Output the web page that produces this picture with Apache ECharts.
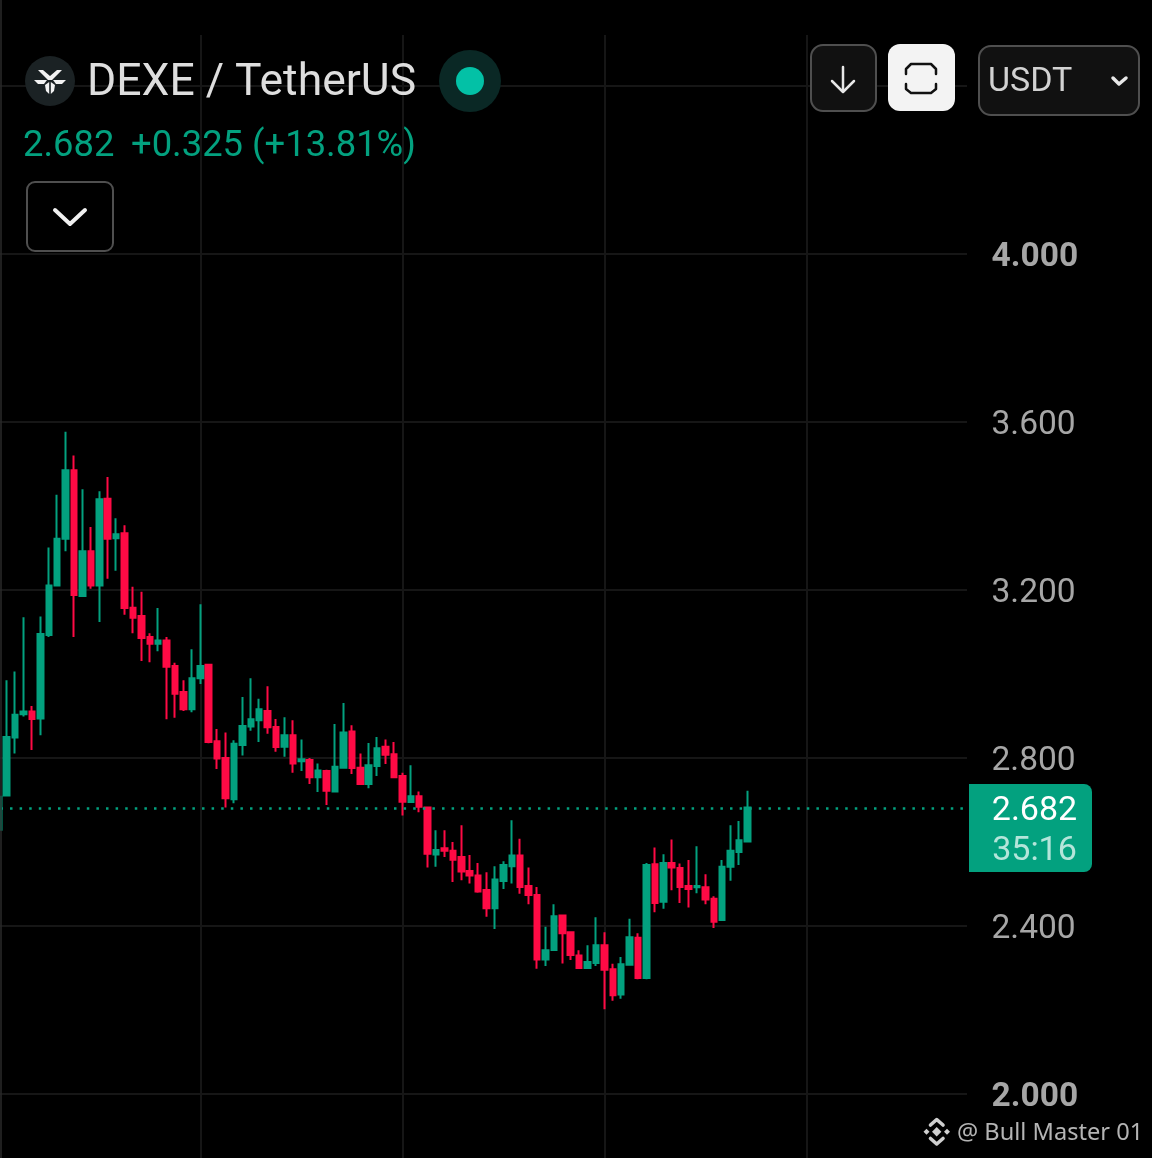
<!DOCTYPE html>
<html><head><meta charset="utf-8">
<style>html,body{margin:0;padding:0;background:#000}#c{width:1152px;height:1158px}</style>
<script src="https://cdn.jsdelivr.net/npm/echarts@6/dist/echarts.min.js"></script>
</head><body><div id="c"></div>
<script>
const opens=[2.629,2.711,2.849,2.904,2.911,2.894,3.093,3.211,3.322,3.485,3.186,3.292,3.211,3.417,3.323,3.335,3.158,3.138,3.088,3.072,3.080,3.019,2.957,2.916,2.990,3.022,2.840,2.800,2.702,2.831,2.875,2.890,2.912,2.874,2.827,2.854,2.792,2.795,2.754,2.769,2.720,2.777,2.863,2.777,2.738,2.781,2.827,2.809,2.757,2.695,2.709,2.682,2.570,2.585,2.579,2.564,2.531,2.520,2.486,2.442,2.507,2.542,2.568,2.495,2.474,2.320,2.343,2.425,2.385,2.330,2.300,2.312,2.354,2.297,2.237,2.308,2.372,2.276,2.547,2.458,2.550,2.538,2.495,2.492,2.492,2.465,2.414,2.541,2.576,2.601];
const closes=[2.708,2.850,2.903,2.911,2.893,3.095,3.211,3.322,3.485,3.188,3.292,3.211,3.416,3.322,3.333,3.157,3.134,3.086,3.072,3.080,3.017,2.953,2.916,2.990,3.019,2.838,2.799,2.704,2.834,2.876,2.892,2.916,2.873,2.826,2.854,2.787,2.797,2.754,2.770,2.722,2.779,2.861,2.776,2.738,2.783,2.823,2.808,2.754,2.696,2.709,2.684,2.572,2.581,2.579,2.558,2.530,2.520,2.482,2.442,2.511,2.545,2.568,2.493,2.474,2.320,2.342,2.423,2.383,2.331,2.300,2.314,2.354,2.296,2.235,2.309,2.373,2.276,2.545,2.455,2.550,2.539,2.493,2.488,2.495,2.463,2.410,2.541,2.579,2.604,2.682];
const lows=[2.623,2.710,2.811,2.899,2.819,2.854,3.088,3.211,3.292,3.088,3.186,3.203,3.124,3.227,3.246,3.141,3.097,3.031,3.028,3.054,2.892,2.896,2.912,2.909,2.976,2.835,2.774,2.682,2.692,2.806,2.865,2.838,2.858,2.815,2.803,2.765,2.769,2.738,2.719,2.688,2.720,2.777,2.762,2.738,2.728,2.757,2.786,2.753,2.663,2.695,2.671,2.539,2.541,2.564,2.505,2.509,2.501,2.479,2.422,2.393,2.488,2.501,2.477,2.452,2.298,2.305,2.343,2.311,2.319,2.300,2.300,2.305,2.202,2.222,2.227,2.308,2.273,2.273,2.433,2.441,2.485,2.455,2.444,2.478,2.452,2.395,2.414,2.508,2.545,2.600];
const highs=[2.710,2.985,3.006,3.135,2.924,3.137,3.301,3.427,3.577,3.520,3.440,3.350,3.435,3.469,3.371,3.354,3.208,3.196,3.097,3.157,3.088,3.027,2.985,3.059,3.166,3.023,2.869,2.861,2.842,2.945,2.990,2.941,2.971,2.893,2.897,2.890,2.844,2.800,2.787,2.772,2.881,2.931,2.878,2.811,2.836,2.850,2.844,2.838,2.765,2.783,2.720,2.683,2.628,2.628,2.600,2.640,2.569,2.550,2.528,2.542,2.554,2.652,2.608,2.539,2.493,2.398,2.452,2.425,2.385,2.342,2.354,2.421,2.385,2.310,2.326,2.417,2.383,2.550,2.587,2.571,2.606,2.549,2.557,2.590,2.523,2.471,2.557,2.640,2.650,2.722];
const slotCount=116;
const lastPrice=2.682;
const hiddenTicks=['4.800','4.400','1.600'];
const boldTicks=['4.000','2.000'];
const GREEN='#03a17f',RED='#ff0a45',GRID='#161616',AXIS='#a6a6a6';
const categories=Array.from({length:slotCount},(_,i)=>String(i));
const candles=opens.map((o,i)=>[o,closes[i],lows[i],highs[i]]);

const txt=(text,x,y,font,fill,align)=>({type:'text',z:110,style:{text,x,y,font,fill,align:align||'left',verticalAlign:'middle'}});
const rr=(x,y,width,height,r,fill,stroke,z)=>({type:'rect',z:z||105,shape:{x,y,width,height,r},style:{fill,stroke:stroke||null,lineWidth:stroke?2:0}});
const poly=(points,fill)=>({type:'polygon',z:110,shape:{points},style:{fill}});
const pl=(points,stroke,w)=>({type:'polyline',z:110,shape:{points},style:{stroke,lineWidth:w,fill:null,lineCap:'round',lineJoin:'round'}});

const graphics=[
 {type:'rect',z:100,shape:{x:0,y:0,width:1152,height:35},style:{fill:'#000'}},
 {type:'rect',z:100,shape:{x:967,y:0,width:5,height:1158},style:{fill:'#000'}},
 {type:'line',z:100,shape:{x1:1,y1:0,x2:1,y2:1158},style:{stroke:'#2a2a2a',lineWidth:1.5}},
 {type:'circle',z:105,shape:{cx:50,cy:81,r:25},style:{fill:'#1b2224'}},
 poly([[38,70],[43,70],[50,76],[57,70],[62,70],[52,80],[48,80]],'#f2f2f2'),
 poly([[34,80],[47,80],[44,84],[38,84]],'#f2f2f2'),
 poly([[66,80],[53,80],[56,84],[62,84]],'#f2f2f2'),
 poly([[45,85],[49.2,82],[49.2,94],[46,91]],'#f2f2f2'),
 poly([[55,85],[50.8,82],[50.8,94],[54,91]],'#f2f2f2'),
 txt('DEXE / TetherUS',87,84,'44.5px Roboto','#dedede'),
 {type:'circle',z:105,shape:{cx:470,cy:81,r:31},style:{fill:'#0a2825'}},
 {type:'circle',z:106,shape:{cx:470,cy:81,r:14},style:{fill:'#03c1a6'}},
 txt('2.682',23,147,'36.4px Roboto',GREEN),
 txt('+0.325 (+13.81%)',131,147,'36.4px Roboto',GREEN),
 rr(27,182,86,69,8,'#000','#4f4f4f'),
 pl([[55,210],[70,224],[85,210]],'#f0f0f0',4),
 rr(811,45,65,66,12,'#111','#4f4f4f'),
 pl([[843,67],[843,91]],'#e8e8e8',2.5),
 pl([[832,81],[843,92],[854,81]],'#e8e8e8',2.5),
 rr(888,44,67,67,12,'#f3f3f3',null),
 pl([[906,74],[906,69],[911,64],[931,64],[936,69],[936,74]],'#111',2.5),
 pl([[906,84],[906,89],[911,93],[931,93],[936,89],[936,84]],'#111',2.5),
 rr(979,46,160,69,12,'#111','#4f4f4f'),
 txt('USDT',988,82,'34px Roboto','#d2d2d2'),
 pl([[1113,78],[1119,84],[1126,78]],'#e8e8e8',3.5),
 rr(969,784,123,88,[0,8,8,0],GREEN,null),
 txt('2.682',1034.5,811,'34px Roboto','#ffffff','center'),
 txt('35:16',1034.5,851,'34px Roboto','#b4e5da','center'),
 poly([[936.7,1127],[941.4,1131.7],[936.7,1136.4],[932,1131.7]],'#cfcfcf'),
 poly([[926.5,1128.7],[929.5,1131.7],[926.5,1134.7],[923.5,1131.7]],'#cfcfcf'),
 poly([[947,1128.7],[950,1131.7],[947,1134.7],[944,1131.7]],'#cfcfcf'),
 pl([[930.5,1125],[936.7,1119.5],[943,1125]],'#cfcfcf',3.6),
 pl([[930.5,1138.5],[936.7,1144],[943,1138.5]],'#cfcfcf',3.6),
 txt('@ Bull Master 01',957,1133,'23.6px "Noto Sans"','#b4b4b4')
];

const chart=echarts.init(document.getElementById('c'));
chart.setOption({
 animation:false,
 backgroundColor:'#000',
 grid:{left:-5.9,top:-82,width:976.4,height:1344,containLabel:false,outerBoundsMode:'none'},
 xAxis:{type:'category',data:categories,boundaryGap:true,
  axisLine:{show:false},axisTick:{show:false},axisLabel:{show:false},
  splitLine:{show:true,alignWithLabel:true,interval:23,lineStyle:{color:GRID,width:2}}},
 yAxis:{type:'value',position:'right',min:1.6,max:4.8,interval:0.4,scale:true,
  axisLine:{show:false},axisTick:{show:false},
  splitLine:{show:true,lineStyle:{color:GRID,width:2}},
  axisLabel:{margin:21,color:AXIS,fontFamily:'Roboto',fontSize:33.5,padding:[8,0,0,0],
   formatter:v=>{const s=v.toFixed(3);if(hiddenTicks.includes(s))return '';return boldTicks.includes(s)?'{b|'+s+'}':s;},
   rich:{b:{color:AXIS,fontFamily:'Roboto',fontSize:33.5,fontWeight:'bold'}}}},
 series:[{type:'candlestick',data:candles,barWidth:6,
  itemStyle:{color:GREEN,color0:RED,borderColor:GREEN,borderColor0:RED,borderWidth:2},
  markLine:{silent:true,symbol:'none',animation:false,label:{show:false},
   lineStyle:{color:GREEN,width:2.5,type:[2.5,7.1],dashOffset:3.3},
   data:[{yAxis:lastPrice}]}}],
 graphic:{elements:graphics}
});
</script></body></html>
